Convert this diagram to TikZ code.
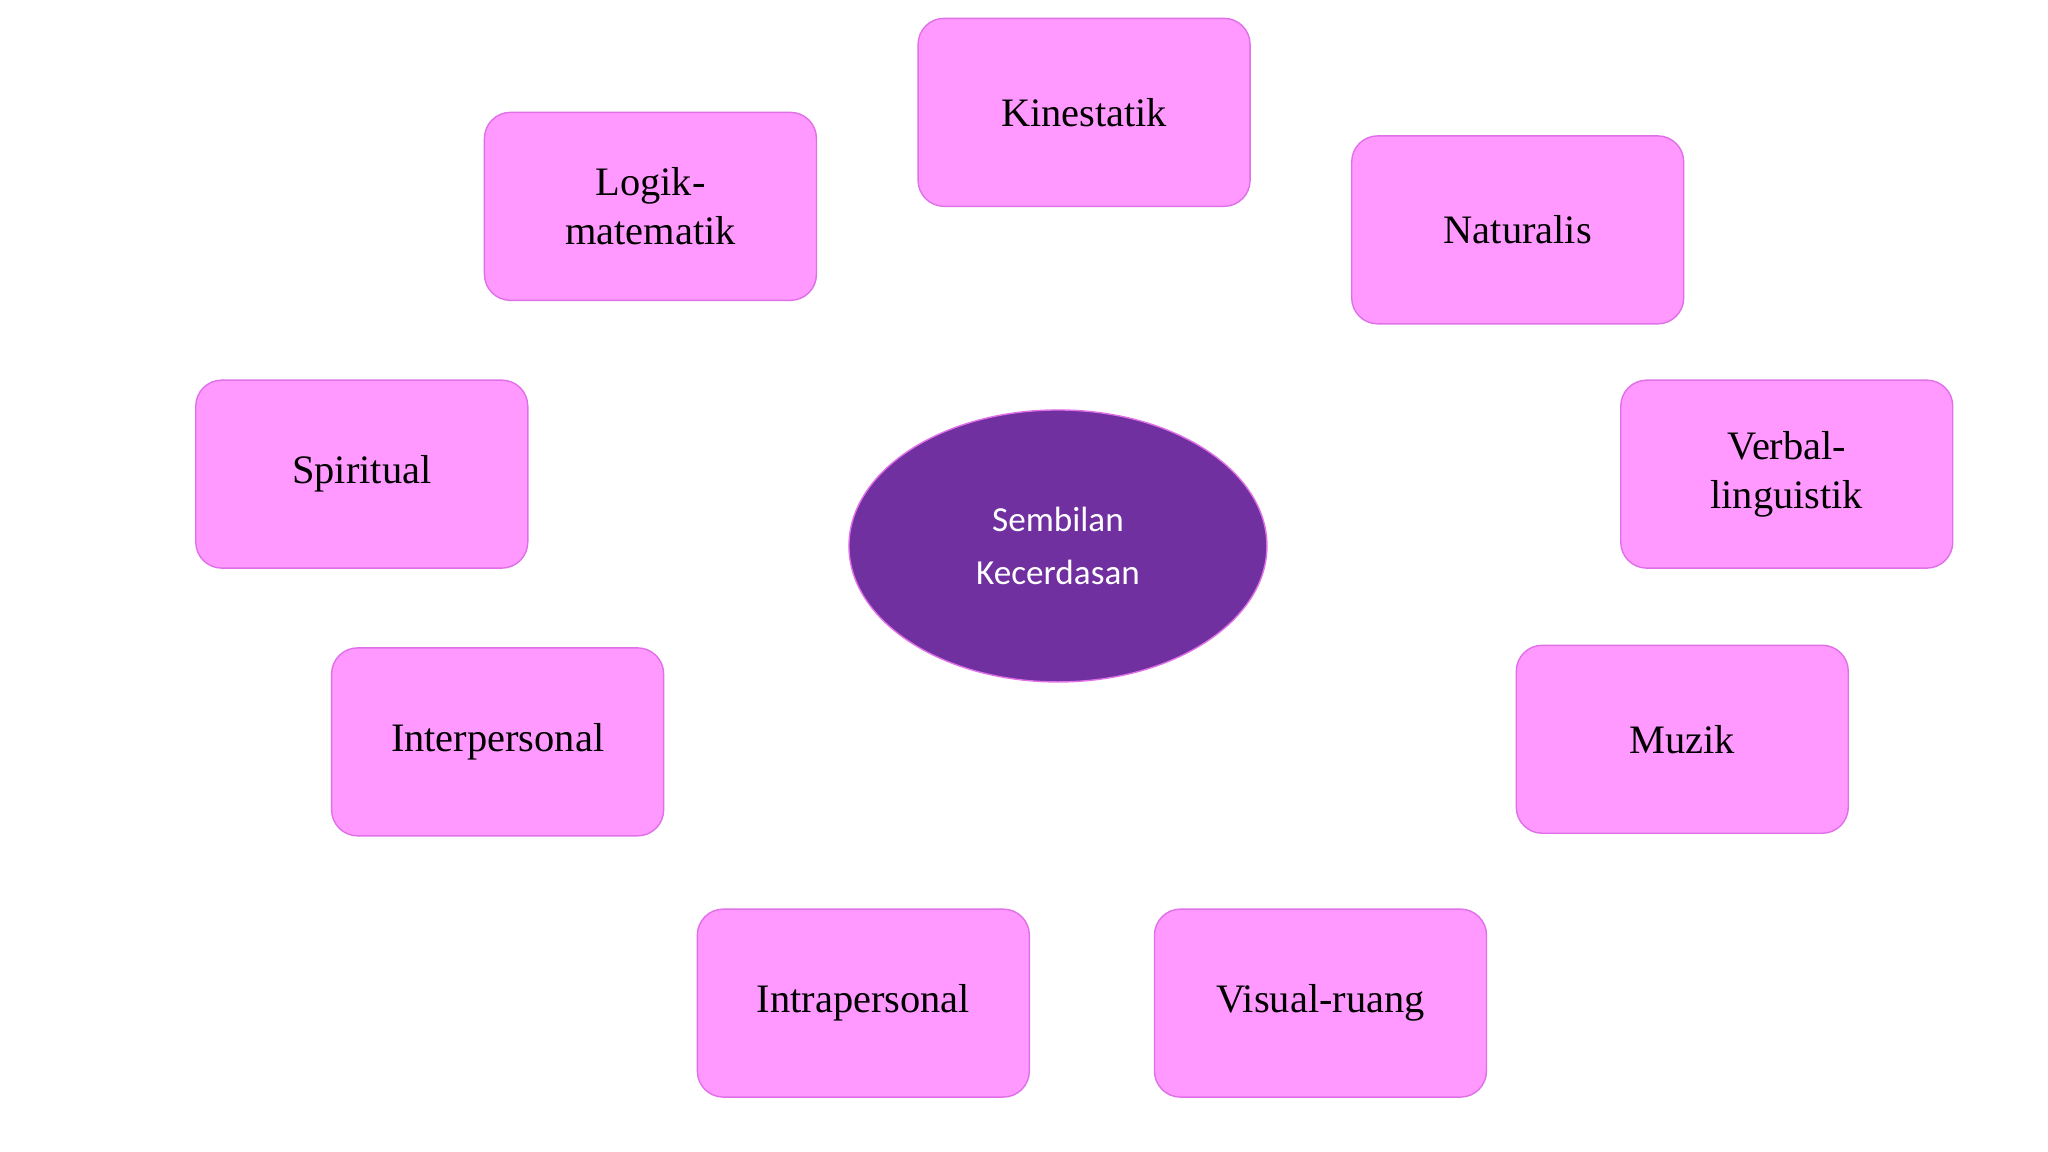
\documentclass[tikz,border=0pt]{standalone}
\usepackage{fontspec}
\setmainfont{Liberation Serif}
\newfontfamily\centerfont{Carlito}
\usetikzlibrary{shapes.geometric}
\definecolor{boxfill}{HTML}{FF99FF}
\definecolor{boxline}{HTML}{E070E8}
\definecolor{hubfill}{HTML}{7030A0}
\begin{document}
\begin{tikzpicture}[x=0.01306cm, y=-0.01306cm,
    kind/.style={draw=boxline, fill=boxfill, rounded corners=0.26cm,
      minimum width=3.32cm, minimum height=1.88cm, inner sep=0pt,
      align=center, font=\fontsize{11.5}{14}\selectfont},
    hub/.style={ellipse, draw=boxline, fill=hubfill, text=white,
      minimum width=4.18cm, minimum height=2.72cm, inner sep=0pt,
      align=center, font=\centerfont\fontsize{10}{15}\selectfont}]
    \useasboundingbox (0,0) rectangle (1568,882);
    \node[hub] (hub) at (810,418) {Sembilan\\Kecerdasan};
    \node[kind] (kin) at (830,86) {Kinestatik};
    \node[kind] (log) at (498,158) {Logik-\\matematik};
    \node[kind] (nat) at (1162,176) {Naturalis};
    \node[kind] (spi) at (277,363) {Spiritual};
    \node[kind] (ver) at (1368,363) {Verbal-\\linguistik};
    \node[kind] (inter) at (381,568) {Interpersonal};
    \node[kind] (muz) at (1288,566) {Muzik};
    \node[kind] (intra) at (661,768) {Intrapersonal};
    \node[kind] (vis) at (1011,768) {Visual-ruang};
\end{tikzpicture}
\end{document}
